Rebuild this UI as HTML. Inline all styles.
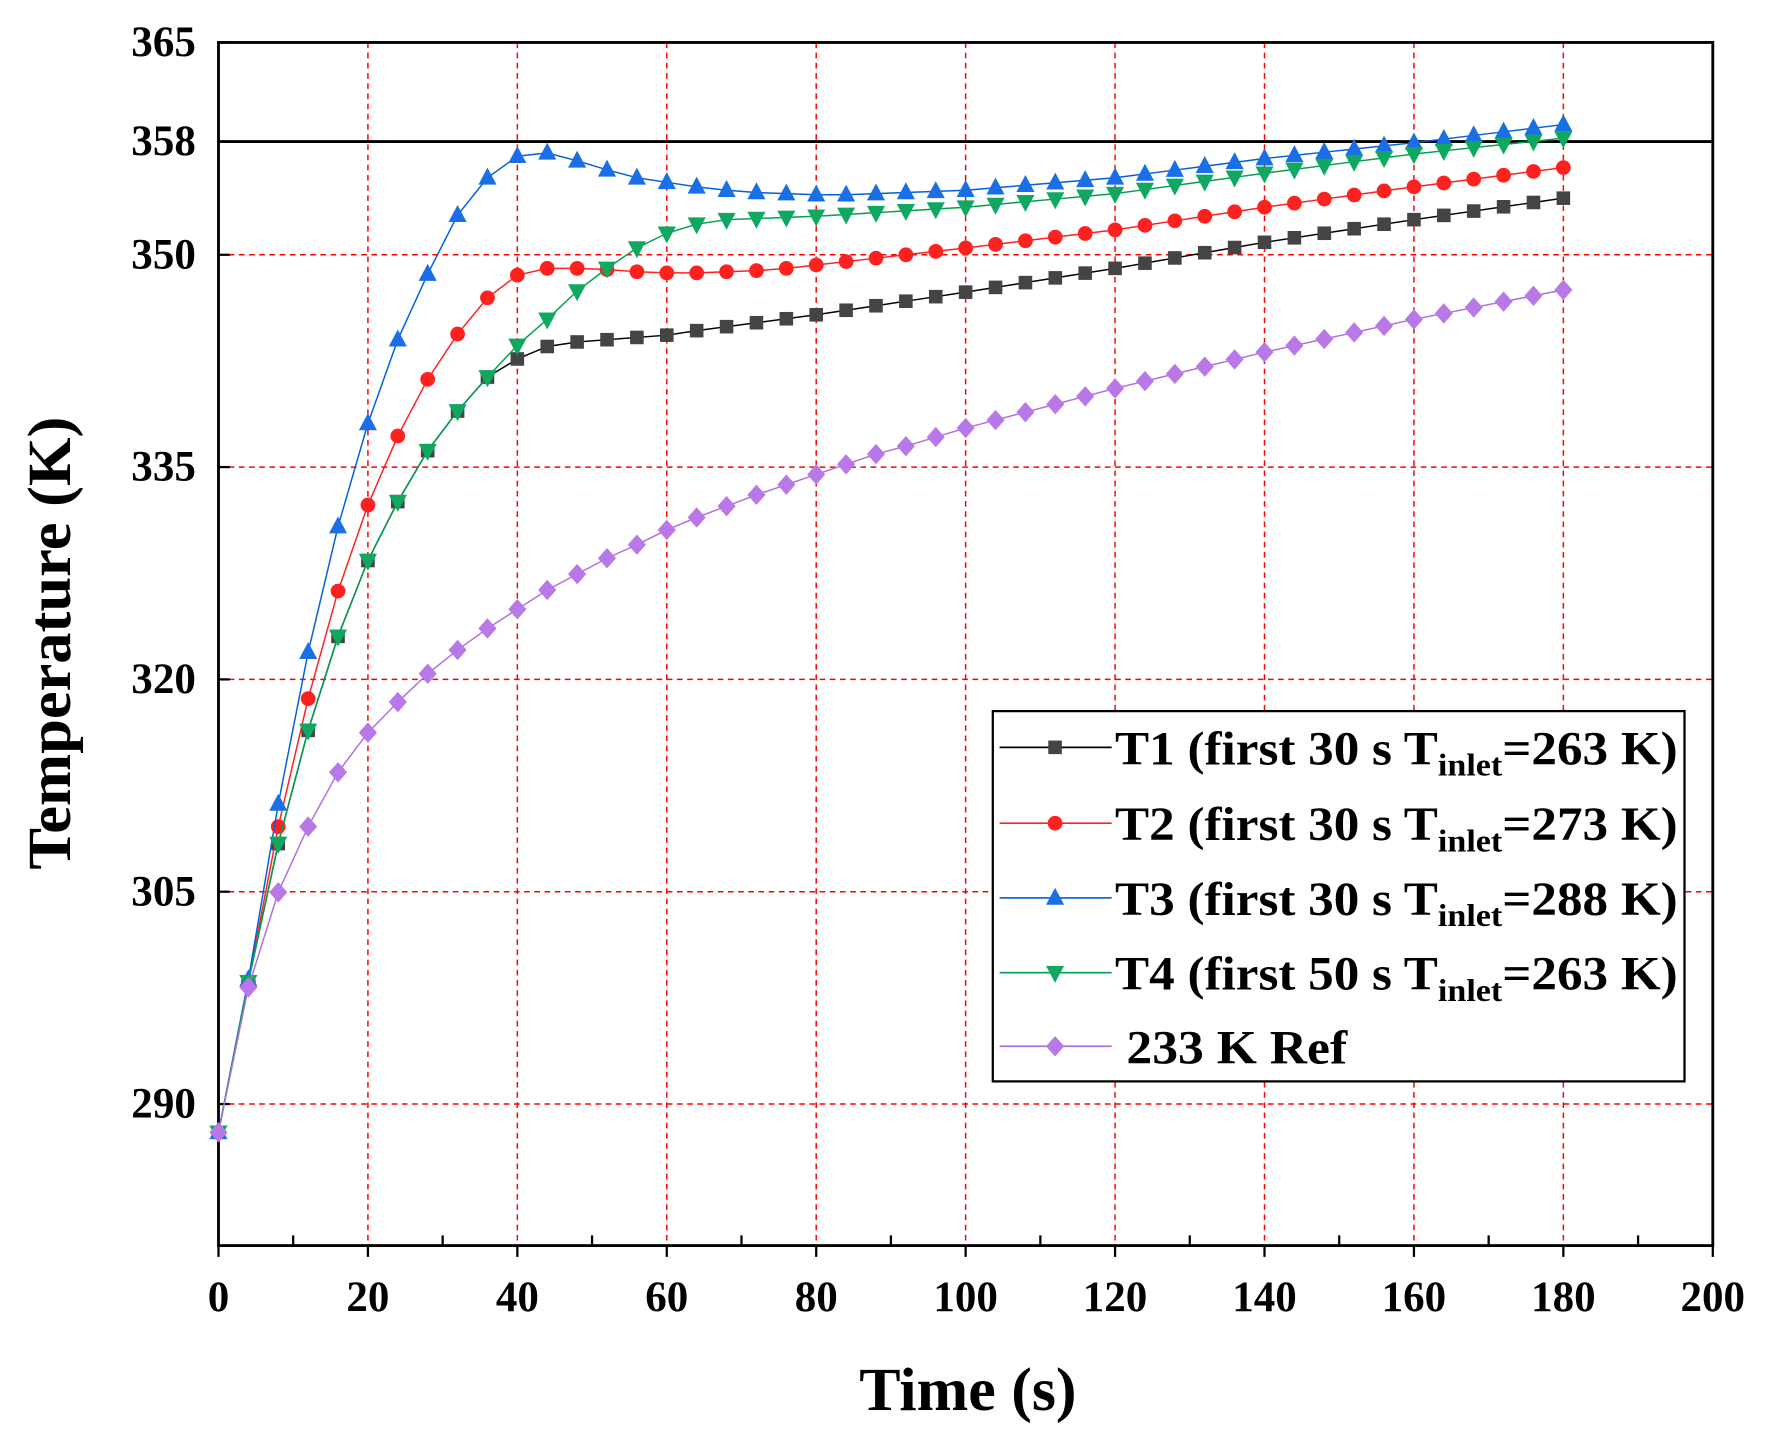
<!DOCTYPE html>
<html><head><meta charset="utf-8"><style>
html,body{margin:0;padding:0;background:#fff}
svg{display:block}
text{font-family:"Liberation Serif",serif;font-weight:bold;fill:#000}
</style></head><body>
<svg id="s" width="1766" height="1446" viewBox="0 0 1560 1277" preserveAspectRatio="none" xmlns="http://www.w3.org/2000/svg">
<rect width="1560" height="1277" fill="#fff"/>
<g id="grid" stroke="#ff0000" stroke-width="1.3" stroke-dasharray="5,4"></g>
<line x1="193" y1="125" x2="1513" y2="125" stroke="#000" stroke-width="2.5"/>
<rect x="193" y="37.5" width="1320" height="1062.5" fill="none" stroke="#000" stroke-width="2.5"/>
<g id="ticks" stroke="#000" stroke-width="2"></g>
<g id="series"></g>
<g id="labels" font-size="38"></g>
<text x="855" y="1245" font-size="54" text-anchor="middle" textLength="192" lengthAdjust="spacingAndGlyphs">Time (s)</text>
<text transform="translate(62,568) rotate(-90)" font-size="54" text-anchor="middle" textLength="400" lengthAdjust="spacingAndGlyphs">Temperature (K)</text>
<rect x="877" y="628" width="611" height="327" fill="#fff" stroke="#000" stroke-width="2"/>
<g id="legend"></g>
<g font-size="42">
<text x="985" y="675" textLength="497" lengthAdjust="spacingAndGlyphs">T1 (first 30 s T<tspan font-size="28" dy="10">inlet</tspan><tspan dy="-10">=263 K)</tspan></text>
<text x="985" y="742" textLength="497" lengthAdjust="spacingAndGlyphs">T2 (first 30 s T<tspan font-size="28" dy="10">inlet</tspan><tspan dy="-10">=273 K)</tspan></text>
<text x="985" y="808" textLength="497" lengthAdjust="spacingAndGlyphs">T3 (first 30 s T<tspan font-size="28" dy="10">inlet</tspan><tspan dy="-10">=288 K)</tspan></text>
<text x="985" y="874" textLength="497" lengthAdjust="spacingAndGlyphs">T4 (first 50 s T<tspan font-size="28" dy="10">inlet</tspan><tspan dy="-10">=263 K)</tspan></text>
<text x="995" y="939" textLength="195" lengthAdjust="spacingAndGlyphs">233 K Ref</text>
</g>
</svg>
<script>
const NS="http://www.w3.org/2000/svg";
function el(p,t,a){const e=document.createElementNS(NS,t);for(const k in a)e.setAttribute(k,a[k]);document.getElementById(p).appendChild(e);return e;}
const X=t=>193+t*6.6, Y=v=>37.5+(365-v)*12.5;
for(let t=20;t<=180;t+=20)el("grid","line",{x1:X(t),y1:37.5,x2:X(t),y2:1100});
[350,335,320,305,290].forEach(v=>el("grid","line",{x1:193,y1:Y(v),x2:1513,y2:Y(v)}));
for(let t=0;t<=200;t+=10){const maj=t%20==0;el("ticks","line",{x1:X(t),y1:1100,x2:X(t),y2:maj?1110:1091});}
for(let t=0;t<=200;t+=20){const e=el("labels","text",{x:X(t),y:1158,"text-anchor":"middle"});e.textContent=t;}
[365,358,350,335,320,305,290].forEach(v=>{const e=el("labels","text",{x:173,y:Y(v)+12,"text-anchor":"end"});e.textContent=v;el("ticks","line",{x1:193,y1:Y(v),x2:203,y2:Y(v)});});
function interp(k){const out=[];const ks=Object.keys(k).map(Number).sort((a,b)=>a-b);
for(let t=0;t<=180;t+=4){let i=0;while(i<ks.length-1&&ks[i+1]<t)i++;const a=ks[i],b=ks[Math.min(i+1,ks.length-1)];
const v=a==b?k[a]:k[a]+(k[b]-k[a])*(t-a)/(b-a);out.push([X(t),v]);}return out;}
const S=[
{c:"#000",m:"#444",sh:"sq",k:{0:1000,4:867,8:745,12:645,16:562,20:495,24:443,28:398,32:363,36:333,40:317,44:306,48:302,52:300,56:298,60:296,64:292,80:278,100:258,120:237,140:214,160:194,180:175}},
{c:"#ff2020",m:"#ff2020",sh:"ci",k:{0:1000,4:867,8:730,12:617,16:522,20:446,24:385,28:335,32:295,36:263,40:243,44:237,48:237,52:238,56:240,60:241,64:241,68:240,72:239,76:237,80:234,88:228,100:219,120:203,140:183,160:165,180:148}},
{c:"#0060e0",m:"#1a6fe6",sh:"up",k:{0:1000,4:865,8:710,12:576,16:465,20:374,24:300,28:242,32:190,36:157,40:138,44:135,48:142,52:150,56:157,60:161,64:165,68:168,72:170,76:171,80:172,84:172,88:171,100:168,120:157,140:140,160:126,180:110}},
{c:"#00a050",m:"#10a860",sh:"dn",k:{0:1000,4:867,8:745,12:645,16:562,20:495,24:443,28:398,32:363,36:333,40:305,44:282,48:257,52:237,56:219,60:206,64:198,68:194,72:193,80:191,100:183,120:171,140:153,160:136,180:122}},
{c:"#b070e0",m:"#b878e8",sh:"di",k:{0:1000,4:872,8:788,12:730,16:682,20:647,24:620,28:595,32:574,36:555,40:538,44:521,48:507,52:493,56:481,60:468,64:457,68:447,72:437,76:428,80:419,84:410,88:401,92:394,96:386,100:378,120:343,140:311,160:282,180:256}}];
function mark(g,sh,x,y,f){
 if(sh=="sq")el(g,"rect",{x:x-6,y:y-6,width:12,height:12,fill:f});
 else if(sh=="ci")el(g,"circle",{cx:x,cy:y,r:6.5,fill:f});
 else if(sh=="up")el(g,"polygon",{points:`${x},${y-9} ${x-8},${y+6} ${x+8},${y+6}`,fill:f});
 else if(sh=="dn")el(g,"polygon",{points:`${x},${y+9} ${x-8},${y-6} ${x+8},${y-6}`,fill:f});
 else el(g,"polygon",{points:`${x},${y-9} ${x+8},${y} ${x},${y+9} ${x-8},${y}`,fill:f});}
S.forEach((s,i)=>{const p=interp(s.k);
 el("series","polyline",{points:p.map(q=>q.join(",")).join(" "),fill:"none",stroke:s.c,"stroke-width":1.3});
 p.forEach(q=>mark("series",s.sh,q[0],q[1],s.m));
 const ly=[660,727,793,859,924][i];
 el("legend","line",{x1:883,y1:ly,x2:982,y2:ly,stroke:s.c,"stroke-width":1.5});
 mark("legend",s.sh,932,ly,s.m);});
</script>
</body></html>
